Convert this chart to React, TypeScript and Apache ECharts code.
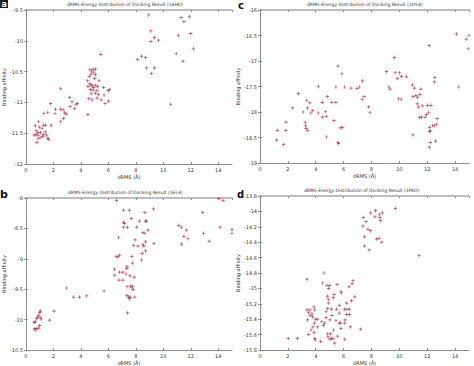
import React, { useEffect, useRef } from "react";
import * as echarts from "echarts";

const panelTitles = [
  "dRMS-Energy Distribution of Docking Result (1AHD)",
  "dRMS-Energy Distribution of Docking Result (1DS4)",
  "dRMS-Energy Distribution of Docking Result (1EL4)",
  "dRMS-Energy Distribution of Docking Result (1PKO)",
];
const panelLetters = ["a", "c", "b", "d"];
const xAxisName = "dRMS (Å)";
const yAxisName = "Binding affinity";
const xRange = [0, 15, 2];
const yRanges = [
  [-12, -9.5, 0.5],
  [-19, -16, 0.5],
  [-10.5, -8, 0.5],
  [-15.8, -13.8, 0.2],
];

const dataA: number[][] = [
  [8.94, -9.58], [11.3, -9.62], [11.9, -9.61], [11.5, -9.69], [9.1, -9.84], [11.1, -9.91], [12.0, -9.88],
  [9.36, -9.95], [9.65, -9.99], [9.1, -10.01], [10.94, -10.21], [12.19, -10.13], [11.44, -10.33], [8.12, -10.3],
  [8.42, -10.25], [8.7, -10.27], [8.78, -10.44], [9.36, -10.44], [9.13, -10.53], [10.54, -11.03], [5.46, -10.22],
  [4.66, -10.47], [4.78, -10.49], [4.89, -10.46], [5.08, -10.46], [4.94, -10.51], [4.75, -10.54], [5.06, -10.55],
  [4.61, -10.58], [5.01, -10.61], [5.32, -10.65], [4.49, -10.65], [4.66, -10.7], [4.75, -10.72], [4.85, -10.73],
  [4.94, -10.76], [5.08, -10.72], [5.22, -10.74], [4.52, -10.74], [4.71, -10.79], [4.89, -10.8], [5.18, -10.81],
  [5.06, -10.85], [4.75, -10.86], [5.29, -10.87], [5.65, -10.76], [6.07, -10.79], [6.0, -10.81], [5.69, -10.88],
  [5.48, -10.96], [4.82, -10.96], [5.76, -11.02], [6.02, -10.98], [4.59, -10.94], [5.18, -10.93], [4.52, -11.2],
  [2.54, -10.78], [3.18, -10.92], [3.36, -10.99], [3.22, -11.07], [3.65, -11.03], [3.74, -11.02], [3.55, -11.1],
  [1.81, -11.02], [2.16, -11.11], [2.52, -11.11], [2.71, -11.12], [2.12, -11.18], [1.32, -11.18], [1.6, -11.16],
  [2.82, -11.17], [2.94, -11.19], [2.73, -11.26], [2.54, -11.31], [1.84, -11.37], [1.27, -11.37], [1.44, -11.37],
  [0.92, -11.31], [0.68, -11.38], [0.99, -11.4], [1.18, -11.42], [0.75, -11.46], [0.87, -11.49], [1.06, -11.49],
  [0.73, -11.52], [0.89, -11.53], [0.61, -11.53], [1.41, -11.48], [1.27, -11.52], [1.51, -11.53], [1.6, -11.58],
  [1.22, -11.55], [1.04, -11.57], [0.8, -11.65], [0.89, -11.59], [1.65, -11.6],
];

const dataC: number[][] = [
  [14.1, -16.47], [15.0, -16.5], [14.8, -16.57], [14.94, -16.76], [14.27, -17.51], [12.15, -16.7], [9.65, -16.93],
  [9.08, -17.21], [9.7, -17.23], [10.01, -17.23], [10.16, -17.3], [9.85, -17.34], [10.52, -17.31], [9.25, -17.51],
  [9.34, -17.55], [9.94, -17.74], [10.13, -17.75], [10.95, -17.47], [11.07, -17.53], [10.98, -17.7], [11.31, -17.71],
  [11.19, -17.68], [11.55, -17.55], [11.48, -17.66], [12.54, -17.32], [12.51, -17.41], [11.29, -17.84], [11.36, -17.9],
  [11.65, -17.88], [12.01, -17.87], [12.27, -17.87], [11.46, -18.11], [11.58, -18.1], [11.84, -18.1], [11.94, -18.05],
  [12.1, -18.01], [12.71, -18.13], [12.18, -18.3], [12.39, -18.27], [12.51, -18.27], [12.66, -18.24], [12.25, -18.37],
  [12.15, -18.38], [10.98, -18.45], [12.61, -18.57], [12.22, -18.6], [12.15, -18.69],
  [5.6, -17.1], [5.88, -17.25], [4.2, -17.5], [5.45, -17.51], [6.08, -17.51], [6.53, -17.53], [6.96, -17.54],
  [7.13, -17.51], [7.35, -17.39], [7.33, -17.75], [7.47, -17.7], [7.8, -17.9], [7.9, -18.01], [2.76, -17.64],
  [3.36, -17.77], [3.58, -17.82], [4.83, -17.7], [5.16, -17.81], [5.45, -17.81], [4.47, -17.81], [3.79, -17.97],
  [3.41, -17.92], [3.1, -18.0], [3.65, -18.02], [4.18, -18.02], [4.47, -18.1], [4.76, -18.09], [4.71, -17.99],
  [2.33, -17.92], [1.87, -18.2], [1.85, -18.36], [1.25, -18.36], [1.2, -18.55], [1.7, -18.64], [3.24, -18.2],
  [3.27, -18.27], [3.31, -18.32], [3.43, -18.36], [5.31, -18.17], [5.76, -18.31], [5.93, -18.3], [4.76, -18.49],
  [5.6, -18.6], [5.64, -18.62],
];

const dataB: number[][] = [
  [6.59, -8.04], [7.11, -8.2], [7.53, -8.2], [7.11, -8.4], [7.18, -8.42], [7.67, -8.34], [7.11, -8.48],
  [7.39, -8.48], [8.28, -8.38], [8.71, -8.38], [8.78, -8.38], [8.66, -8.24], [9.29, -8.18], [8.07, -8.48],
  [8.52, -8.57], [8.66, -8.58], [8.89, -8.53], [6.75, -8.65], [7.95, -8.69], [7.84, -8.78], [8.16, -8.79],
  [8.52, -8.77], [8.59, -8.79], [8.71, -8.72], [9.32, -8.75], [8.71, -8.87], [8.47, -8.91], [8.42, -9.02],
  [7.72, -8.96], [7.76, -9.07], [6.59, -8.96], [6.71, -8.97], [6.82, -8.94], [6.45, -9.17], [7.36, -9.13],
  [7.34, -9.16], [6.82, -9.22], [7.06, -9.22], [6.47, -9.27], [7.29, -9.25], [7.58, -9.28], [7.88, -9.3],
  [6.78, -9.35], [7.06, -9.35], [7.36, -9.46], [7.6, -9.45], [7.72, -9.48], [7.76, -9.45], [7.81, -9.51],
  [7.36, -9.6], [7.48, -9.63], [7.6, -9.63], [7.53, -9.66], [7.93, -9.63], [7.39, -9.89], [5.69, -9.53],
  [2.96, -9.48], [3.48, -9.63], [3.91, -9.63], [4.42, -9.61], [2.05, -9.86], [1.74, -10.01], [1.01, -9.88],
  [1.06, -9.86], [0.94, -9.93], [0.85, -9.96], [1.04, -9.97], [1.13, -9.99], [0.78, -9.98], [0.68, -10.03],
  [0.61, -10.05], [1.01, -10.1], [0.94, -10.14], [0.8, -10.15], [0.68, -10.17], [0.64, -10.15],
  [11.13, -8.45], [11.32, -8.48], [11.69, -8.53], [11.5, -8.63], [11.8, -8.67], [11.34, -8.76], [12.87, -8.24],
  [12.94, -8.58], [13.34, -8.71], [14.14, -8.48], [14.35, -8.04], [14.05, -8.01], [15.0, -8.52], [15.0, -8.58],
];

const dataD: number[][] = [
  [9.72, -13.96], [8.3, -13.99], [7.94, -14.02], [8.78, -14.02], [8.59, -14.04], [8.25, -14.07], [7.42, -14.08],
  [8.61, -14.08], [8.66, -14.12], [7.61, -14.13], [7.39, -14.19], [7.75, -14.23], [7.94, -14.25], [7.51, -14.33],
  [8.54, -14.35], [8.37, -14.36], [8.74, -14.4], [7.51, -14.45], [7.83, -14.5], [11.41, -14.57],
  [4.59, -14.8], [3.37, -14.88], [4.5, -14.93], [4.81, -14.96], [5.0, -14.96], [4.93, -15.0], [5.53, -14.95],
  [6.68, -14.9], [6.61, -14.94], [5.81, -15.04], [5.84, -15.06], [5.31, -15.08], [4.83, -15.1], [5.26, -15.12],
  [6.39, -14.98], [6.8, -15.11], [4.9, -15.14], [6.58, -15.16], [6.22, -15.19], [4.93, -15.19], [5.69, -15.22],
  [4.86, -15.26], [5.5, -15.27], [5.12, -15.27], [6.08, -15.27], [6.41, -15.27], [6.24, -15.27], [4.74, -15.3],
  [5.69, -15.32], [5.17, -15.35], [3.88, -15.24], [3.92, -15.28], [3.59, -15.28], [3.49, -15.31], [3.73, -15.33],
  [3.78, -15.37], [3.59, -15.35], [3.4, -15.41], [3.99, -15.4], [4.14, -15.4], [4.43, -15.43], [4.64, -15.45],
  [3.9, -15.45], [3.8, -15.5], [4.12, -15.5], [3.66, -15.54], [4.55, -15.48], [4.74, -15.38], [5.02, -15.41],
  [5.45, -15.42], [5.26, -15.54], [5.69, -15.45], [6.1, -15.41], [6.22, -15.34], [6.41, -15.34], [5.77, -15.45],
  [5.81, -15.52], [6.08, -15.45], [6.48, -15.5], [7.23, -15.53], [3.49, -15.6], [3.88, -15.57], [4.86, -15.59],
  [5.07, -15.59], [4.88, -15.63], [5.14, -15.65], [3.92, -15.65], [3.97, -15.67], [5.02, -15.66], [5.24, -15.65],
  [5.55, -15.62], [6.08, -15.66], [5.36, -15.71], [4.35, -15.69], [2.03, -15.65], [2.68, -15.65], [3.37, -15.28],
];

const panelData = [dataA, dataC, dataB, dataD];

const grids = [
  { left: 20, top: 10, width: 212, height: 154 },
  { left: 260, top: 10, width: 209, height: 153 },
  { left: 20, top: 198, width: 212, height: 153 },
  { left: 260, top: 196, width: 209, height: 154 },
];
const titleLefts = [67, 307, 68, 304];

const FONT = "DejaVu Sans";
const AXIS_COLOR = "#8c8c8c";
const LABEL_COLOR = "#333";
const MARK_COLOR = "#a01c34";
const PLUS = "path://M2,0H3V2H5V3H3V5H2V3H0V2H2Z";

const fmt = (v: number) => String(Math.round(v * 10) / 10);

export default function App() {
  const ref = useRef<HTMLDivElement>(null);
  useEffect(() => {
    if (!ref.current) return;
    const chart = echarts.init(ref.current, undefined, { renderer: "svg" });
    const xAxis: any[] = [];
    const yAxis: any[] = [];
    const series: any[] = [];
    const graphic: any[] = [];
    grids.forEach((g, i) => {
      const [ymin, ymax, yint] = yRanges[i];
      const baseLine = { show: true, lineStyle: { color: AXIS_COLOR, width: 1 } };
      const tick = { show: true, inside: true, length: 2, lineStyle: { color: AXIS_COLOR } };
      xAxis.push({
        type: "value", gridIndex: i, min: xRange[0], max: xRange[1], interval: xRange[2],
        axisLine: baseLine, axisTick: tick, splitLine: { show: false },
        axisLabel: { fontSize: 5, color: LABEL_COLOR, fontFamily: FONT, margin: 3, formatter: fmt, showMaxLabel: false },
        name: xAxisName, nameLocation: "middle", nameGap: 10,
        nameTextStyle: { fontSize: 5, color: LABEL_COLOR, fontFamily: FONT },
      });
      xAxis.push({
        type: "value", gridIndex: i, position: "top", min: xRange[0], max: xRange[1], interval: xRange[2],
        axisLine: { show: true, lineStyle: { color: "#a8a8a8", width: 1.5 } }, axisTick: tick,
        splitLine: { show: false }, axisLabel: { show: false },
      });
      yAxis.push({
        type: "value", gridIndex: i, min: ymin, max: ymax, interval: yint,
        axisLine: baseLine, axisTick: tick, splitLine: { show: false },
        axisLabel: { fontSize: 5, color: LABEL_COLOR, fontFamily: FONT, margin: 3, formatter: fmt },
        name: yAxisName, nameLocation: "middle", nameGap: 14, nameRotate: 90,
        nameTextStyle: { fontSize: 5, color: LABEL_COLOR, fontFamily: FONT },
      });
      yAxis.push({
        type: "value", gridIndex: i, position: "right", min: ymin, max: ymax, interval: yint,
        axisLine: baseLine, axisTick: tick, splitLine: { show: false }, axisLabel: { show: false },
      });
      series.push({
        type: "scatter", xAxisIndex: i * 2, yAxisIndex: i * 2, data: panelData[i],
        symbol: PLUS, symbolSize: 3.5, itemStyle: { color: MARK_COLOR }, clip: false,
      });
      graphic.push({
        type: "text", left: titleLefts[i], top: g.top - 8,
        style: { text: panelTitles[i], fontSize: 4.5, fill: LABEL_COLOR, fontFamily: FONT },
      });
    });
    graphic.push({ type: "rect", shape: { x: 0, y: 0, width: 8, height: 8 }, style: { fill: "#222" } });
    graphic.push({ type: "text", x: 1.5, y: 0, style: { text: panelLetters[0], fontSize: 8, fontWeight: "bold", fill: "#fff", fontFamily: FONT } });
    graphic.push({ type: "text", x: 238, y: 0, style: { text: panelLetters[1], fontSize: 10, fontWeight: "bold", fill: "#111", fontFamily: FONT } });
    graphic.push({ type: "text", x: 0, y: 189, style: { text: panelLetters[2], fontSize: 11, fontWeight: "bold", fill: "#111", fontFamily: FONT } });
    graphic.push({ type: "text", x: 237, y: 189, style: { text: panelLetters[3], fontSize: 10, fontWeight: "bold", fill: "#111", fontFamily: FONT } });

    chart.setOption({
      animation: false,
      backgroundColor: "#fff",
      grid: grids.map((g) => ({ ...g, containLabel: false })),
      xAxis,
      yAxis,
      series,
      graphic,
    });
    return () => chart.dispose();
  }, []);
  return <div ref={ref} style={{ position: "fixed", left: 0, top: 0, width: 474, height: 366 }} />;
}
